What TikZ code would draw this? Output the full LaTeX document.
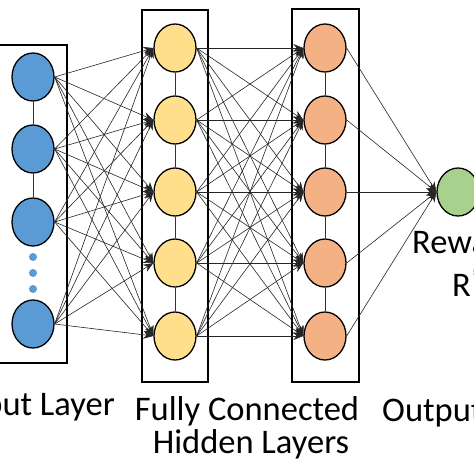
\documentclass[tikz,border=0pt]{standalone}
\usepackage{fontspec}
\setmainfont{Carlito}
\usetikzlibrary{shapes.geometric,arrows.meta}
\definecolor{inblue}{HTML}{5B9BD5}
\definecolor{hidyellow}{HTML}{FFDF8C}
\definecolor{hidorange}{HTML}{F4B183}
\definecolor{outgreen}{HTML}{A9D18E}
\tikzset{
  neuron/.style={ellipse, draw=black, line width=1.3pt, minimum width=42pt, minimum height=48pt, inner sep=0pt},
  layerbox/.style={draw=black, line width=2.6pt},
  conn/.style={draw=black!85, line width=0.6pt, -{Stealth[length=10pt,width=8pt]}},
  chain/.style={draw=black!80, line width=0.8pt},
  lbl/.style={font=\fontsize{34.5}{36}\selectfont, inner sep=0pt},
  dotnode/.style={circle, fill=inblue, minimum size=8pt, inner sep=0pt}
}
\begin{document}
\begin{tikzpicture}[x=1pt,y=-1pt]
\useasboundingbox (0,0) rectangle (474,474);
\fill[white] (0,0) rectangle (474,474);
% boxes
\draw[layerbox] (-3,45) rectangle (67,363);
\draw[layerbox] (142,10) rectangle (208,382);
\draw[layerbox] (292,9) rectangle (359,382);
% input nodes
\node[neuron, fill=inblue] (i1) at (33,77) {};
\node[neuron, fill=inblue] (i2) at (33,149) {};
\node[neuron, fill=inblue] (i3) at (33,222) {};
\node[neuron, fill=inblue] (i4) at (33,324) {};
\node[dotnode] (d1) at (33,257) {};
\node[dotnode] (d2) at (33,273) {};
\node[dotnode] (d3) at (33,289) {};
% hidden layers
\foreach \k/\yy in {1/48,2/120,3/192,4/263,5/336}{
  \node[neuron, fill=hidyellow] (h\k) at (175,\yy) {};
  \node[neuron, fill=hidorange] (g\k) at (325,\yy) {};
}
% output
\node[neuron, fill=outgreen] (o) at (458,192) {};
% chains
\draw[chain] (i1) -- (i2);
\draw[chain] (i2) -- (i3);
\foreach \a/\b in {1/2,2/3,3/4,4/5}{
  \draw[chain] (h\a) -- (h\b);
  \draw[chain] (g\a) -- (g\b);
}
% connections
\foreach \s in {1,2,3,4}{
  \foreach \t in {1,...,5}{
    \draw[conn] (i\s.east) -- (h\t.west);
  }
}
\foreach \s in {1,...,5}{
  \foreach \t in {1,...,5}{
    \draw[conn] (h\s.east) -- (g\t.west);
  }
  \draw[conn] (g\s.east) -- (o.west);
}
% labels
\node[lbl, anchor=base east] (lin) at (115,415) {Input Layer};
\node[lbl, anchor=base] (lh1) at (247,420) {Fully Connected};
\node[lbl, anchor=base] (lh2) at (251,453) {Hidden Layers};
\node[lbl, anchor=base west] (lout) at (382,421) {Output Layer};
\node[lbl, anchor=base west] (lrw) at (412,253) {Reward};
\node[lbl, anchor=base west] (lr) at (452,296) {R\textsuperscript{*}};
\end{tikzpicture}
\end{document}
